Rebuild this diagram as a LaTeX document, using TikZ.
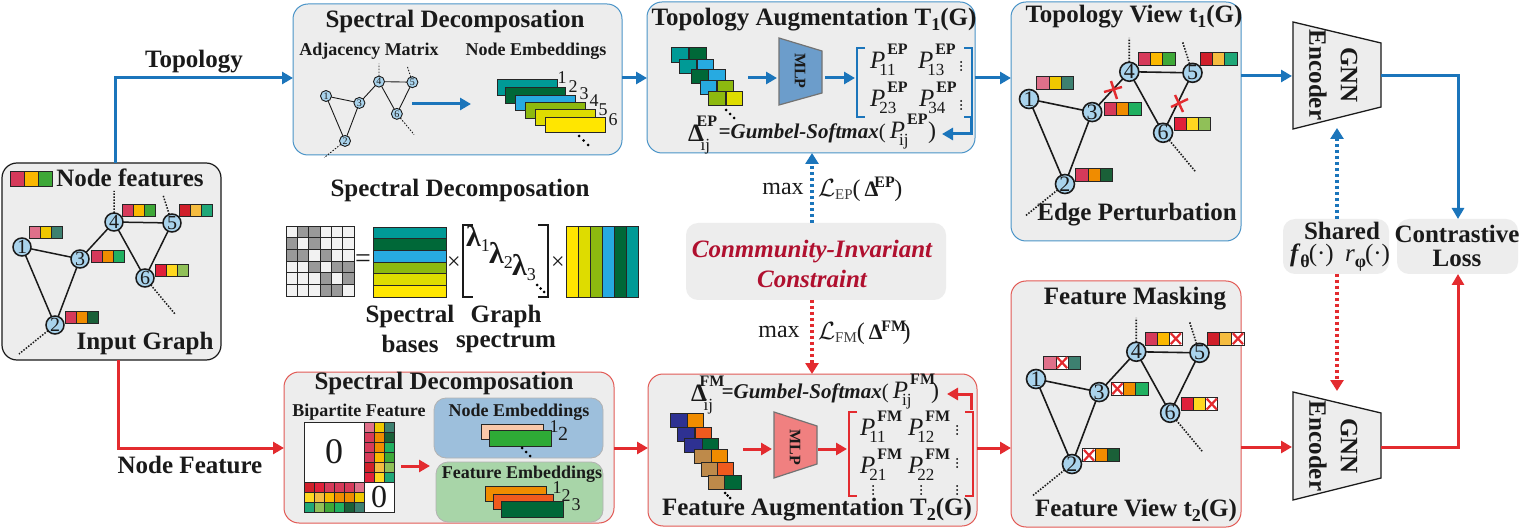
\documentclass[tikz,border=0pt]{standalone}
\usepackage{fontspec}
\setmainfont{Liberation Serif}
\usetikzlibrary{arrows.meta,calc}
\definecolor{ink}{HTML}{1A1A1A}
\definecolor{panelg}{HTML}{EDEDED}
\definecolor{flowb}{HTML}{1B75BB}
\definecolor{flowr}{HTML}{E32B2F}
\definecolor{edgeb}{HTML}{4A94C8}
\definecolor{edger}{HTML}{E25A55}
\definecolor{nodeb}{HTML}{A9D3EC}
\definecolor{crim}{HTML}{B0102F}
\definecolor{cTeal}{HTML}{009A96}
\definecolor{cDark}{HTML}{006838}
\definecolor{cBlue}{HTML}{27AAE1}
\definecolor{cLime}{HTML}{8DB90F}
\definecolor{cYL}{HTML}{DEDC00}
\definecolor{cYel}{HTML}{FFE600}
\definecolor{dkB}{HTML}{2E3192}
\definecolor{brn}{HTML}{BE8A4A}
\definecolor{orr}{HTML}{F05A1E}
\definecolor{mlpb}{HTML}{6C9DCB}
\definecolor{mlpr}{HTML}{F08080}
\definecolor{nebf}{HTML}{9DBFDC}
\definecolor{febf}{HTML}{A8D5A8}
\definecolor{peach}{HTML}{F9C8AA}
\definecolor{grn}{HTML}{2EAA36}
\definecolor{aA}{HTML}{E0708A}\definecolor{aB}{HTML}{F0C800}\definecolor{aC}{HTML}{3D8070}
\definecolor{bA}{HTML}{D63A5A}\definecolor{bB}{HTML}{F08C00}\definecolor{bC}{HTML}{1A6038}
\definecolor{cA}{HTML}{D63A5A}\definecolor{cB}{HTML}{F08C00}\definecolor{cC}{HTML}{20B060}
\definecolor{dA}{HTML}{D63A5A}\definecolor{dB}{HTML}{FBB800}\definecolor{dC}{HTML}{3EA838}
\definecolor{eA}{HTML}{D01F2A}\definecolor{eB}{HTML}{F5BC40}\definecolor{eC}{HTML}{20A878}
\definecolor{fA}{HTML}{E0203A}\definecolor{fB}{HTML}{FFD820}\definecolor{fC}{HTML}{90C058}
\newcommand\fsz[1]{\fontsize{#1}{#1}\selectfont}
\tikzset{
  lab/.style={inner sep=0pt,outer sep=0pt,text=ink,font=\fsz{25}\bfseries},
  sublab/.style={inner sep=0pt,outer sep=0pt,text=ink,font=\fsz{18}\bfseries},
  num/.style={inner sep=0pt,outer sep=0pt,text=ink,font=\fsz{18}},
  formula/.style={inner sep=0pt,outer sep=0pt,text=ink,font=\fsz{25},anchor=base west},
  cellst/.style={draw=black!85,line width=0.9pt},
  gnode/.style={circle,draw=ink,fill=nodeb,inner sep=0pt,outer sep=0pt,text=ink},
  panel/.style={rectangle,rounded corners=15pt,fill=panelg,inner sep=0pt,outer sep=0pt},
  softbox/.style={rectangle,rounded corners=12pt,fill=panelg,inner sep=0pt,outer sep=0pt},
  barrow/.style={draw=flowb,line width=3pt,-{Triangle[length=11pt,width=12pt]}},
  rarrow/.style={draw=flowr,line width=3pt,-{Triangle[length=11pt,width=12pt]}},
  bdot/.style={draw=flowb,line width=3.2pt,dash pattern=on 3pt off 3pt,-{Triangle[length=11pt,width=13pt]}},
  rdot/.style={draw=flowr,line width=3.2pt,dash pattern=on 3pt off 3pt,-{Triangle[length=11pt,width=13pt]}},
  bbrack/.style={draw=flowb,line width=1.5pt},
  rbrack/.style={draw=flowr,line width=1.5pt},
}
\newcommand\pbox[6]{%
  \pgfmathsetmacro\bw{#5-#3}\pgfmathsetmacro\bh{#6-#4}%
  \pgfmathsetmacro\bx{(#3+#5)/2}\pgfmathsetmacro\by{(#4+#6)/2}%
  \node[#1,minimum width=\bw pt,minimum height=\bh pt] (#2) at (\bx,\by) {};}
\newcommand\cel[5]{\draw[cellst,fill=#5] (#1,#2) rectangle (#3,#4);}
\newcommand\threedots[3]{\fill[black] (#1,#2) circle (1.5pt) ++(#3,#3) circle (1.5pt) ++(#3,#3) circle (1.5pt);}
\newcommand\vdts[2]{\fill[black] (#1,#2) circle (1pt) ++(0,4) circle (1pt) ++(0,4) circle (1pt);}
\newcommand\barat[6]{%
  \draw[cellst,fill=#3] (#1,#2) rectangle +(11.3,12);
  \draw[cellst,fill=#4] ({#1+11.3},#2) rectangle +(11.3,12);
  \draw[cellst,fill=#5] ({#1+22.6},#2) rectangle +(11.3,12);
  \ifnum#6>0
    \pgfmathsetmacro\mx{#1+(#6-1)*11.3}
    \draw[cellst,fill=white] (\mx,#2) rectangle +(11.3,12);
    \draw[flowr,line width=2.2pt] ({\mx+1},{#2+1}) -- ({\mx+10.3},{#2+11});
    \draw[flowr,line width=2.2pt] ({\mx+10.3},{#2+1}) -- ({\mx+1},{#2+11});
  \fi}
% prefix, x, y, scale, node diameter, digit size, edge width
\newcommand\GG[7]{%
  \begin{scope}[shift={(#2,#3)},x=#4pt,y=-#4pt]
    \tikzset{gn/.style={gnode,minimum size=#5pt,line width=#7pt,font=\fsz{#6}}}
    \node[gn] (#1n1) at (0,0) {1};
    \node[gn] (#1n2) at (33,78) {2};
    \node[gn] (#1n3) at (58,12) {3};
    \node[gn] (#1n4) at (92,-25) {4};
    \node[gn] (#1n5) at (150,-24) {5};
    \node[gn] (#1n6) at (123,31) {6};
    \coordinate (#1d2) at (-3,107);
    \coordinate (#1d4) at (92,-56);
    \coordinate (#1d5) at (141,-52);
    \coordinate (#1d6) at (153,67);
    \draw[ink,line width=#7pt] (#1n1)--(#1n2) (#1n1)--(#1n3) (#1n2)--(#1n3) (#1n3)--(#1n4) (#1n4)--(#1n5) (#1n4)--(#1n6) (#1n5)--(#1n6);
    \draw[ink,line width=#7pt,dash pattern=on 1.5pt off 1.5pt] (#1n2)--(#1d2) (#1n4)--(#1d4) (#1n5)--(#1d5) (#1n6)--(#1d6);
  \end{scope}}
% x, y, scale, masks 1..6
\newcommand\GB[9]{%
  \begin{scope}[shift={(#1,#2)},x=#3pt,y=-#3pt]
    \barat{7}{-21}{aA}{aB}{aC}{#4}
    \barat{43}{64}{bA}{bB}{bC}{#5}
    \barat{69}{3}{cA}{cB}{cC}{#6}
    \barat{100}{-43}{dA}{dB}{dC}{#7}
    \barat{157}{-43}{eA}{eB}{eC}{#8}
    \barat{133}{17}{fA}{fB}{fC}{#9}
  \end{scope}}
% P with stacked indices: sub, sup
\newcommand\Pe[2]{\mbox{\textit{P}\makebox[0pt][l]{\hspace{2pt}\raisebox{14pt}{\fsz{16}\bfseries #2}}\makebox[0pt][l]{\hspace{-6pt}\raisebox{-7pt}{\fsz{17}\mdseries #1}}\hspace{23pt}}}
\newcommand\Dl[1]{\raisebox{-3pt}{\mbox{{\bfseries Δ}\makebox[0pt][l]{\hspace{-7pt}\raisebox{15pt}{\fsz{16}\bfseries #1}}\makebox[0pt][l]{\hspace{-3pt}\raisebox{-9pt}{\fsz{17}\mdseries ij}}\hspace{15pt}}}}
\newcommand\Dn[1]{\mbox{\fsz{22}{\bfseries Δ}\makebox[0pt][l]{\hspace{-4pt}\raisebox{9pt}{\fsz{16}\bfseries #1}}\hspace{16pt}}}
\newcommand\Gum{\fsz{21}\bfseries\itshape =Gumbel-Softmax\mdseries\upshape(}
\begin{document}
\begin{tikzpicture}[x=1pt,y=-1pt]
\useasboundingbox (0,0) rectangle (1521,529);
\fill[white] (0,0) rectangle (1521,529);
\coordinate (ty) at (0,78);
\coordinate (by) at (0,448);
% panels
\pbox{panel,draw=ink,line width=1.2pt}{input}{2}{163}{221}{360}
\pbox{panel,draw=edgeb,line width=1pt}{spec1}{293}{4}{622}{155}
\pbox{panel,draw=edgeb,line width=1pt}{aug1}{647}{2}{975}{153}
\pbox{panel,draw=edgeb,line width=1pt}{view1}{1011}{2}{1241}{241}
\pbox{panel,draw=edger,line width=1pt}{spec2}{284}{372}{614}{523}
\pbox{panel,draw=edger,line width=1pt}{aug2}{648}{374}{977}{526}
\pbox{panel,draw=edger,line width=1pt}{view2}{1011}{281}{1241}{527}
\pbox{softbox}{cic}{686}{223}{946}{300}
\pbox{softbox}{shared}{1283}{219}{1389}{274}
\pbox{softbox}{closs}{1397}{219}{1518}{274}
% input graph
\cel{10}{171}{24}{186}{dA}\cel{24}{171}{38}{186}{dB}\cel{38}{171}{52}{186}{dC}
\node[lab,anchor=center] (tNF) at (130,178) {Node features};
\node[lab] (tIG) at (145,343) {Input Graph};
\GG{a}{22}{247}{1}{18}{20}{1.5}
\GB{22}{247}{1}{0}{0}{0}{0}{0}{0}
% spectral top
\node[lab] (tS1) at (455,21) {Spectral Decomposation};
\node[sublab] (tAM) at (369,51) {Adjacency Matrix};
\node[sublab] (tNE) at (536,51) {Node Embeddings};
\GG{s}{326}{96}{0.576}{11}{10}{0.9}
\coordinate (sA) at (412,104);
\coordinate (sB) at (471,104);
\draw[barrow] (sA) -- (sB);
\cel{497}{79}{557}{95}{cTeal}
\cel{505}{87}{565}{103}{cDark}
\cel{515}{95}{575}{110}{cBlue}
\cel{525}{102}{585}{118}{cLime}
\cel{535}{109}{595}{125}{cYL}
\cel{545}{117}{605}{132}{cYel}
\node[num] (sn1) at (562,78) {1};
\node[num] (sn2) at (573,87) {2};
\node[num] (sn3) at (584,94) {3};
\node[num] (sn4) at (594,101) {4};
\node[num] (sn5) at (603,110) {5};
\node[num] (sn6) at (613,120) {6};
\threedots{579}{136}{4.5}
% topology augmentation
\node[lab] (tA1) at (814,20) {Topology Augmentation T\raisebox{-5pt}{\fsz{18}1}(G)};
\cel{671}{47}{688}{62}{cTeal}\cel{689}{47}{706}{62}{cDark}
\cel{679}{59}{696}{73}{cTeal}\cel{697}{59}{713}{73}{cBlue}
\cel{691}{69}{708}{83}{cDark}\cel{708}{69}{725}{83}{cBlue}
\cel{700}{80}{716}{94}{cBlue}\cel{717}{80}{733}{94}{cLime}
\cel{708}{91}{725}{105}{cLime}\cel{726}{91}{742}{105}{cYL}
\threedots{726}{110}{4}
\coordinate (mA) at (748,78);
\coordinate (mB) at (777,78);
\coordinate (mC) at (825,78);
\coordinate (mD) at (855,78);
\draw[barrow] (mA)--(mB);
\draw[barrow] (mC)--(mD);
\draw[line width=1.2pt,draw=black!55,fill=mlpb] (779,38)--(822,51)--(822,93)--(779,105)--cycle;
\node[sublab,rotate=-90,font=\fsz{16}\bfseries] (mlp1) at (800,71) {MLP};
\draw[bbrack] (865,48)--(857,48)--(857,117)--(865,117);
\draw[bbrack] (964,48)--(972,48)--(972,117)--(964,117);
\node[formula] (p11) at (870,69) {\Pe{11}{EP}};
\node[formula] (p13) at (918,69) {\Pe{13}{EP}};
\node[formula] (p23) at (870,107) {\Pe{23}{EP}};
\node[formula] (p34) at (919,107) {\Pe{34}{EP}};
\vdts{961}{62}
\vdts{961}{101}
\node[formula] (fG1) at (688,139) {\Dl{EP}\mbox{\Gum}\,\Pe{ij}{EP}\mbox{\fsz{24})}};
\coordinate (fa1) at (971,118);
\coordinate (fa2) at (971,134);
\coordinate (fa3) at (942,134);
\draw[barrow] (fa1)--(fa2)--(fa3);
% topology view
\node[lab] (tV1) at (1134,17) {Topology View t\raisebox{-5pt}{\fsz{18}1}(G)};
\node[lab] (tEP) at (1137,215) {Edge Perturbation};
\GG{v}{1029}{99}{1.09}{19}{22}{1.6}
\GB{1029}{99}{1.09}{0}{0}{0}{0}{0}{0}
\draw[flowr,line width=2.4pt] (1104,92)--(1122,87) (1111,81)--(1117,99);
\draw[flowr,line width=2.4pt] (1171,107)--(1188,99) (1175,95)--(1183,112);
% Centre decomposition
\node[lab] (tS0) at (460,190) {Spectral Decomposation};
\foreach \r in {0,...,5} \foreach \c in {0,...,5}
  \draw[black!85,line width=0.9pt,fill=black!5] ({286+\c*11.33},{226+\r*11.67}) rectangle +(11.33,11.67);
\foreach \c/\r in {1/0,2/0,0/1,2/1,0/2,1/2,3/2,2/3,4/3,5/3,3/4,5/4,3/5,4/5}
  \draw[black!85,line width=0.9pt,fill=black!40] ({286+\c*11.33},{226+\r*11.67}) rectangle +(11.33,11.67);
\node[num,font=\fsz{28}] (eqs) at (363,261) {=};
\cel{373}{227}{446}{238.7}{cTeal}\cel{373}{238.7}{446}{250.3}{cDark}\cel{373}{250.3}{446}{262}{cBlue}
\cel{373}{262}{446}{273.7}{cLime}\cel{373}{273.7}{446}{285.3}{cYL}\cel{373}{285.3}{446}{297}{cYel}
\node[num,font=\fsz{24}] (tm1) at (454,263) {×};
\draw[ink,line width=1.4pt] (473,225)--(463,225)--(463,297)--(473,297);
\draw[ink,line width=1.4pt] (538,225)--(548,225)--(548,297)--(538,297);
\node[num,font=\fsz{30}\bfseries] (la1) at (478,238) {λ\raisebox{-5pt}{\fsz{18}\mdseries 1}};
\node[num,font=\fsz{30}\bfseries] (la2) at (501,255) {λ\raisebox{-5pt}{\fsz{18}\mdseries 2}};
\node[num,font=\fsz{30}\bfseries] (la3) at (524,268) {λ\raisebox{-5pt}{\fsz{18}\mdseries 3}};
\threedots{537}{285}{3.5}
\node[num,font=\fsz{24}] (tm2) at (558,263) {×};
\cel{566}{226}{578}{297}{cYel}\cel{578}{226}{590}{297}{cYL}\cel{590}{226}{602}{297}{cLime}
\cel{602}{226}{614}{297}{cBlue}\cel{614}{226}{626}{297}{cDark}\cel{626}{226}{638}{297}{cTeal}
\node[lab] (tB1) at (410,316) {Spectral};
\node[lab] (tB2) at (410,344) {bases};
\node[lab] (tB3) at (506,316) {Graph};
\node[lab] (tB4) at (506,343) {spectrum};
% community
\node[lab,text=crim,font=\fsz{25}\bfseries\itshape] (cc1) at (812,252) {Conmmunity-Invariant};
\node[lab,text=crim,font=\fsz{25}\bfseries\itshape] (cc2) at (812,279) {Constraint};
\node[num,font=\fsz{24}] (mx1) at (783,189) {max};
\node[formula,font=\fsz{24}] (le1) at (818,197) {$\mathcal{L}$\raisebox{-3pt}{\fsz{15}\color{black!75}EP}(\,\Dn{EP})};
\node[num,font=\fsz{24}] (mx2) at (779,332) {max};
\node[formula,font=\fsz{24}] (le2) at (818,340) {$\mathcal{L}$\raisebox{-3pt}{\fsz{15}\color{black!75}FM}(\,\Dn{\,FM}\,)};
\coordinate (cx) at (812,0);
\draw[bdot] (cic.north -| cx) -- (aug1.south -| cx);
\draw[rdot] (cic.south -| cx) -- (aug2.north -| cx);
% spectral bottom
\node[lab] (tS2) at (444,383) {Spectral Decomposation};
\node[sublab] (tBF) at (359,412) {Bipartite Feature};
\draw[cellst,fill=white] (304,422) rectangle (394,512);
\draw[cellst] (304,422) rectangle (364,482);
\node[num,font=\fsz{36}] (z1) at (334,452) {0};
\node[num,font=\fsz{32}] (z2) at (379,497) {0};
\foreach \r/\ca/\cb/\cc in {0/aA/aB/aC,1/bA/bB/bC,2/cA/cB/cC,3/dA/dB/dC,4/eA/eB/fC,5/fA/fB/eC}{
  \cel{364}{422+\r*10}{374}{432+\r*10}{\ca}
  \cel{374}{422+\r*10}{384}{432+\r*10}{\cb}
  \cel{384}{422+\r*10}{394}{432+\r*10}{\cc}
}
\foreach \r/\ca/\cb/\cc/\cd/\ce/\cf in {0/eA/fA/dA/cA/bA/aA,1/fB/eB/dB/cB/bB/aB,2/eC/fC/dC/cC/bC/aC}{
  \cel{304}{482+\r*10}{314}{492+\r*10}{\ca}
  \cel{314}{482+\r*10}{324}{492+\r*10}{\cb}
  \cel{324}{482+\r*10}{334}{492+\r*10}{\cc}
  \cel{334}{482+\r*10}{344}{492+\r*10}{\cd}
  \cel{344}{482+\r*10}{354}{492+\r*10}{\ce}
  \cel{354}{482+\r*10}{364}{492+\r*10}{\cf}
}
\coordinate (bA) at (401,466);
\coordinate (bB) at (430,466);
\draw[rarrow] (bA)--(bB);
\pbox{softbox,fill=nebf,draw=black!30,line width=0.8pt}{neb}{434}{398}{603}{458}
\pbox{softbox,fill=febf,draw=black!30,line width=0.8pt}{feb}{436}{462}{603}{522}
\node[sublab] (tN2) at (519,412) {Node Embeddings};
\node[sublab] (tF2) at (522,474) {Feature Embeddings};
\cel{481}{424}{543}{439}{peach}
\cel{489}{430}{551}{446}{grn}
\node[num] (n21) at (554,427) {1};
\node[num,font=\fsz{20}] (n22) at (563,434) {2};
\threedots{522}{448}{4}
\cel{485}{486}{546}{501}{bB}
\cel{493}{494}{553}{509}{orr}
\cel{501}{501}{563}{517}{cDark}
\node[num] (n31) at (557,488) {1};
\node[num,font=\fsz{18}] (n32) at (566,496) {2};
\node[num] (n33) at (576,505) {3};
% feature augmentation
\cel{670}{413}{687}{427}{dkB}\cel{687}{413}{703}{427}{bB}
\cel{677}{427}{694}{441}{dkB}\cel{695}{427}{711}{441}{orr}
\cel{684}{438}{702}{452}{dkB}\cel{702}{438}{718}{452}{cDark}
\cel{694}{449}{711}{463}{brn}\cel{711}{449}{727}{463}{bB}
\cel{701}{462}{717}{476}{brn}\cel{717}{462}{733}{476}{orr}
\cel{708}{475}{724}{489}{brn}\cel{724}{475}{741}{489}{cDark}
\threedots{725}{493}{2.5}
\coordinate (nA) at (743,449);
\coordinate (nB) at (772,449);
\coordinate (nC) at (818,449);
\coordinate (nD) at (847,449);
\draw[rarrow] (nA)--(nB);
\draw[rarrow] (nC)--(nD);
\draw[line width=1.2pt,draw=black!55,fill=mlpr] (774,412)--(817,426)--(817,464)--(774,478)--cycle;
\node[sublab,rotate=-90,font=\fsz{16}\bfseries] (mlp2) at (795,447) {MLP};
\draw[rbrack] (857,412)--(849,412)--(849,496)--(857,496);
\draw[rbrack] (965,412)--(973,412)--(973,496)--(965,496);
\node[formula] (q11) at (860,435) {\Pe{11}{FM}};
\node[formula] (q12) at (908,435) {\Pe{12}{FM}};
\node[formula] (q21) at (860,473) {\Pe{21}{FM}};
\node[formula] (q22) at (908,473) {\Pe{22}{FM}};
\vdts{957}{426}\vdts{957}{459}
\vdts{873}{486}\vdts{921}{486}\vdts{957}{486}
\node[formula] (fG2) at (691,398) {\Dl{FM}\mbox{\Gum}\,\Pe{ij}{FM}\mbox{\fsz{24})}};
\node[lab] (tA2) at (817,510) {Feature Augmentation T\raisebox{-5pt}{\fsz{18}2}(G)};
\coordinate (fb1) at (971,410);
\coordinate (fb2) at (971,394);
\coordinate (fb3) at (947,394);
\draw[rarrow] (fb1)--(fb2)--(fb3);
% feature view
\node[lab] (tFM) at (1135,299) {Feature Masking};
\node[lab] (tV2) at (1136,510) {Feature View t\raisebox{-5pt}{\fsz{18}2}(G)};
\GG{w}{1036}{379}{1.09}{19}{22}{1.6}
\GB{1036}{379}{1.09}{2}{1}{1}{3}{3}{3}
% encoders
\draw[ink,line width=1.3pt,fill=panelg] (1293,22)--(1381,43)--(1381,107)--(1293,129)--cycle;
\draw[ink,line width=1.3pt,fill=panelg] (1293,392)--(1381,413)--(1381,478)--(1293,500)--cycle;
\node[lab,rotate=-90] (g1) at (1349,75) {GNN};
\node[lab,rotate=-90] (e1) at (1318,75) {Encoder};
\node[lab,rotate=-90] (g2) at (1349,446) {GNN};
\node[lab,rotate=-90] (e2) at (1318,446) {Encoder};
\coordinate (ei1) at (1292,76);
\coordinate (eo1) at (1381,76);
\coordinate (ei2) at (1292,447);
\coordinate (eo2) at (1381,447);
\coordinate (et1) at (1337,128);
\coordinate (et2) at (1337,391);
% shared & loss
\node[lab] (sh) at (1342,231) {Shared};
\node[formula] (fth) at (1290,262) {\textit{\bfseries f}\raisebox{-6pt}{\fsz{18}\bfseries θ}\kern-1pt(·)};
\node[formula] (rph) at (1345,262) {\textit{r}\raisebox{-6pt}{\fsz{18}\bfseries φ}\kern-1pt(·)};
\node[lab] (cl1) at (1457,234) {Contrastive};
\node[lab] (cl2) at (1457,258) {Loss};
% main flows
\coordinate (tx) at (115,0);
\coordinate (rx) at (118,0);
\coordinate (lx) at (1458,0);
\coordinate (sx) at (1337,0);
\draw[barrow] (input.north -| tx) |- (spec1.west |- ty);
\draw[barrow] (spec1.east |- ty) -- (aug1.west |- ty);
\draw[barrow] (aug1.east |- ty) -- (view1.west |- ty);
\draw[barrow] (view1.east |- ei1) -- (ei1);
\draw[barrow] (eo1) -| (closs.north -| lx);
\draw[rarrow] (input.south -| rx) |- (spec2.west |- by);
\draw[rarrow] (spec2.east |- by) -- (aug2.west |- by);
\draw[rarrow] (aug2.east |- by) -- (view2.west |- by);
\draw[rarrow] (view2.east |- ei2) -- (ei2);
\draw[rarrow] (eo2) -| (closs.south -| lx);
\draw[bdot] (shared.north -| sx) -- (et1);
\draw[rdot] (shared.south -| sx) -- (et2);
\node[lab] (tTop) at (194,62) {Topology};
\node[lab] (tNFe) at (190,465) {Node Feature};
\end{tikzpicture}
\end{document}
